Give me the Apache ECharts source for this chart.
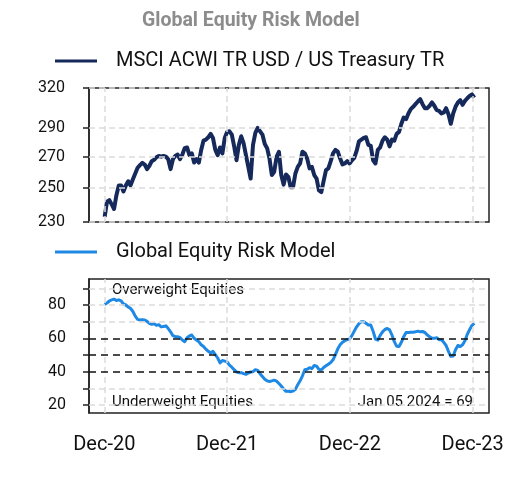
<!DOCTYPE html>
<html>
<head>
<meta charset="utf-8">
<script src="https://cdn.jsdelivr.net/npm/echarts@6/dist/echarts.min.js"></script>
<style>
  html, body { margin: 0; padding: 0; background: #fff; }
  #chart { width: 525px; height: 480px; }
</style>
</head>
<body>
<div id="chart"></div>
<script>
// ---------------- data ----------------
const chartTitle = 'Global Equity Risk Model';
const ratioName = 'MSCI ACWI TR USD / US Treasury TR';
const modelName = 'Global Equity Risk Model';

// weekly observations (Fridays) starting 2021-01-01, ending 2024-01-05
const firstWeek = '2021-01-01';

const ratioValues = [
  232.9, 241.8, 242.7, 240.2, 237.5, 245.7, 251.7, 251.7, 248.0, 251.7,
  254.3, 251.7, 255.6, 259.2, 262.9, 264.6, 266.1, 265.0, 262.0, 264.2,
  267.2, 268.1, 269.8, 270.7, 270.2, 270.7, 270.2, 268.5, 262.0, 268.5,
  270.7, 271.6, 268.5, 271.6, 275.9, 276.4, 271.2, 272.4, 266.3, 268.5,
  266.3, 274.7, 281.1, 281.8, 283.4, 285.8, 282.9, 274.7, 271.2, 276.4,
  272.4, 282.9, 287.2, 287.6, 285.3, 277.1, 267.8, 278.2, 284.1, 279.4,
  271.2, 263.5, 256.0, 278.2, 286.5, 290.0, 287.6, 285.3, 278.7, 275.9,
  268.9, 258.2, 260.3, 270.0, 273.5, 258.2, 252.2, 258.6, 257.1, 250.6,
  250.6, 259.2, 263.5, 265.7, 273.5, 272.4, 268.9, 262.5, 263.5, 258.2,
  256.0, 248.6, 247.6, 254.5, 261.4, 262.5, 267.2, 272.4, 274.7, 273.5,
  268.9, 265.1, 265.7, 267.2, 265.7, 267.8, 269.4, 274.0, 280.6, 281.8,
  282.9, 283.4, 278.2, 277.5, 267.8, 265.7, 274.7, 276.4, 281.1, 283.4,
  281.8, 277.1, 281.8, 281.1, 285.8, 287.2, 293.0, 297.5, 296.3, 300.5,
  303.8, 305.5, 307.5, 309.5, 311.3, 307.5, 304.5, 304.5, 306.3, 308.8,
  306.3, 303.0, 302.5, 300.5, 301.3, 304.5, 300.0, 293.0, 300.5, 305.5,
  308.8, 310.5, 307.0, 310.0, 312.0, 313.8, 315.0, 312.5
];

const modelValues = [
  80.4, 81.2, 82.4, 83.1, 83.5, 82.7, 83.1, 82.5, 80.6, 80.0,
  78.8, 78.0, 76.1, 73.3, 71.4, 71.0, 71.2, 71.0, 70.2, 69.0,
  68.4, 68.8, 67.8, 68.2, 66.9, 67.1, 67.5, 65.9, 63.9, 61.6,
  61.0, 61.0, 60.4, 59.0, 58.0, 60.4, 61.4, 62.0, 60.0, 59.0,
  58.0, 56.1, 55.1, 53.5, 52.2, 51.2, 52.2, 50.2, 48.2, 45.3,
  46.7, 46.3, 45.9, 43.9, 42.7, 41.2, 39.8, 39.4, 39.4, 38.8,
  38.4, 39.2, 39.8, 40.0, 41.2, 40.8, 38.8, 37.1, 35.5, 34.5,
  34.1, 34.5, 34.9, 34.3, 32.9, 31.4, 29.6, 28.2, 28.2, 28.0,
  28.4, 29.4, 32.2, 34.5, 37.5, 41.2, 41.4, 42.4, 41.8, 43.7,
  43.3, 41.4, 41.0, 42.5, 43.5, 44.5, 45.5, 47.1, 50.2, 53.7,
  56.1, 57.6, 58.6, 59.2, 59.6, 61.6, 64.3, 66.9, 68.8, 70.0,
  70.0, 69.0, 68.0, 68.0, 64.3, 59.6, 59.0, 61.8, 63.9, 65.3,
  65.9, 65.1, 62.0, 58.0, 55.3, 55.1, 57.6, 61.0, 63.5, 63.5,
  63.7, 63.7, 63.9, 64.3, 63.9, 64.1, 63.5, 62.0, 61.0, 60.0,
  60.0, 60.4, 59.2, 59.2, 57.6, 55.7, 52.2, 49.2, 49.4, 53.1,
  55.7, 55.1, 56.1, 58.6, 62.4, 65.3, 67.8, 69.0
];

// axis ticks / labels
const yearEndDates = ['2020-12-31', '2021-12-31', '2022-12-31', '2023-12-31'];
const yearEndLabels = ['Dec-20', 'Dec-21', 'Dec-22', 'Dec-23'];
const upperTickValues = [230, 250, 270, 290, 320];
const lowerTickValues = [20, 30, 40, 50, 60, 70, 80, 90];
const lowerLabelValues = [20, 40, 60, 80];
const lowerGuideValues = [40, 50, 60];
const topNote = 'Overweight Equities';
const bottomNote = 'Underweight Equities';
const lastDateLabel = 'Jan 05 2024';

// ---------------- build ----------------
// x is measured in days after the first year-end tick
const DAY = 86400000;
const toMs = s => { const p = s.split('-').map(Number); return Date.UTC(p[0], p[1] - 1, p[2]); };
const originMs = toMs(yearEndDates[0]);
const toDay = ms => Math.round((ms - originMs) / DAY);
const startDay = toDay(toMs(firstWeek));
const weekDay = i => startDay + i * 7;
const ratioData = ratioValues.map((v, i) => [weekDay(i), v]);
const modelData = modelValues.map((v, i) => [weekDay(i), v]);
const yearEndDays = yearEndDates.map(d => toDay(toMs(d)));
const xMin = yearEndDays[0] - 45.5;
const xMax = yearEndDays[yearEndDays.length - 1] + 48.5;

const FONT = 'Roboto';
const NAVY = '#15295b';
const BLUE = '#1e88e5';
const GRIDGRAY = '#dcdcdc';

const grayLine = { color: GRIDGRAY, type: [6, 4], width: 1.5 };

function xAxisFor(gridIndex, showLabels) {
  return {
    gridIndex, type: 'value', min: xMin, max: xMax,
    axisLine: { show: false, onZero: false },
    axisTick: { show: false },
    splitLine: { show: false },
    axisLabel: showLabels ? {
      show: true, customValues: yearEndDays, margin: 22,
      fontFamily: FONT, fontSize: 20, color: '#111',
      formatter: v => { const i = yearEndDays.indexOf(Math.round(v)); return i >= 0 ? yearEndLabels[i] : ''; }
    } : { show: false }
  };
}

const option = {
  backgroundColor: '#fff',
  animation: false,
  title: {
    text: chartTitle, left: 142, top: 11, padding: 0,
    textStyle: { fontFamily: FONT, fontWeight: 'bold', fontSize: 19.5, color: '#8c8c8c' }
  },
  legend: [
    {
      data: [ratioName], left: 55, top: 51, padding: 0, selectedMode: false,
      icon: 'rect', itemWidth: 42, itemHeight: 3,
      textStyle: { fontFamily: FONT, fontSize: 20, color: '#111', padding: [0, 0, 0, 14] }
    },
    {
      data: [modelName], left: 55, top: 242, padding: 0, selectedMode: false,
      icon: 'rect', itemWidth: 42, itemHeight: 3,
      textStyle: { fontFamily: FONT, fontSize: 20, color: '#111', padding: [0, 0, 0, 14] }
    }
  ],
  grid: [
    { left: 89, right: 36, top: 88, bottom: 258, show: true, borderColor: '#222', borderWidth: 1.5, backgroundColor: 'transparent', containLabel: false },
    { left: 89, right: 36, top: 279, bottom: 67, show: true, borderColor: '#222', borderWidth: 1.5, backgroundColor: 'transparent', containLabel: false }
  ],
  xAxis: [xAxisFor(0, false), xAxisFor(1, true)],
  yAxis: [
    {
      gridIndex: 0, type: 'log', logBase: 10, min: upperTickValues[0], max: upperTickValues[upperTickValues.length - 1],
      axisLine: { show: true, onZero: false, lineStyle: { color: '#222', width: 1.5 } },
      axisTick: { show: true, inside: false, length: 6, customValues: upperTickValues, lineStyle: { color: '#222', width: 1.5 } },
      axisLabel: { show: true, customValues: upperTickValues, margin: 24, fontFamily: FONT, fontSize: 16, color: '#111' },
      splitLine: { show: false }, minorTick: { show: false }
    },
    {
      gridIndex: 1, type: 'value', min: 15.2, max: 95.6,
      axisLine: { show: true, onZero: false, lineStyle: { color: '#222', width: 1.5 } },
      axisTick: { show: true, inside: false, length: 6, customValues: lowerTickValues, lineStyle: { color: '#222', width: 1.5 } },
      axisLabel: { show: true, customValues: lowerLabelValues, margin: 23, fontFamily: FONT, fontSize: 16, color: '#111' },
      splitLine: { show: false }
    }
  ],
  series: [
    {
      name: 'upper-grid', type: 'line', xAxisIndex: 0, yAxisIndex: 0, data: [], z: 1, silent: true,
      markLine: {
        silent: true, symbol: 'none', label: { show: false }, lineStyle: grayLine, animation: false,
        data: upperTickValues.map(v => ({ yAxis: v })).concat(yearEndDays.map(t => ({ xAxis: t })))
      }
    },
    {
      name: 'lower-grid', type: 'line', xAxisIndex: 1, yAxisIndex: 1, data: [], z: 1, silent: true,
      markLine: {
        silent: true, symbol: 'none', label: { show: false }, lineStyle: grayLine, animation: false,
        data: lowerTickValues.filter(v => lowerGuideValues.indexOf(v) < 0).map(v => ({ yAxis: v }))
          .concat(yearEndDays.map(t => ({ xAxis: t })))
          .concat(lowerGuideValues.map(v => ({ yAxis: v, lineStyle: { color: '#111', type: [7, 5], width: 1.5 } })))
      }
    },
    {
      name: ratioName, type: 'line', xAxisIndex: 0, yAxisIndex: 0, data: ratioData, z: 3,
      showSymbol: false, symbol: 'none', color: NAVY,
      lineStyle: { color: NAVY, width: 4, join: 'round' }
    },
    {
      name: modelName, type: 'line', xAxisIndex: 1, yAxisIndex: 1, data: modelData, z: 3,
      showSymbol: false, symbol: 'none', color: BLUE,
      lineStyle: { color: BLUE, width: 3, join: 'round' }
    }
  ],
  graphic: [
    { type: 'text', left: 112, top: 283, style: { text: topNote, font: '15px Roboto', fill: '#111' } },
    { type: 'text', left: 112, top: 395, style: { text: bottomNote, font: '15px Roboto', fill: '#111' } },
    { type: 'text', right: 52, top: 395, style: { text: lastDateLabel + ' = ' + Math.round(modelValues[modelValues.length - 1]), font: '15px Roboto', fill: '#111' } }
  ]
};

const chart = echarts.init(document.getElementById('chart'), null, { renderer: 'canvas' });
chart.setOption(option);
</script>
</body>
</html>
